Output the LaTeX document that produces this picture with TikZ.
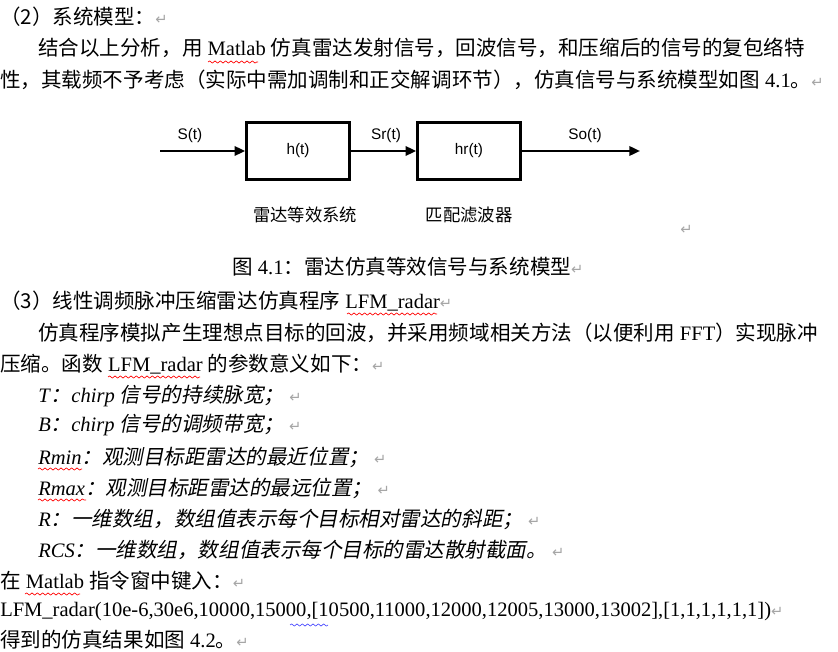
\documentclass[tikz,border=0pt]{standalone}
\usepackage{fontspec}
\setmainfont{Liberation Serif}
\newfontfamily\cjk{Noto Sans CJK SC}
\newfontfamily\cjkit[FakeSlant=0.2]{Noto Sans CJK SC}
\newfontfamily\symf{DejaVu Sans}
\newfontfamily\lsans{Liberation Sans}
\usetikzlibrary{arrows.meta,decorations.pathmorphing}
\newcommand{\pmark}{{\symf\color{gray!70}\fontsize{11pt}{12pt}\selectfont ↵}}
\newcommand{\C}[1]{{\cjk #1}}
\newcommand{\CI}[1]{{\cjkit #1}}
\begin{document}
\begin{tikzpicture}[x=0.75pt,y=-0.75pt,
  txt/.style={anchor=west,inner sep=0pt,font=\fontsize{15.4pt}{18pt}\selectfont},
  blk/.style={draw,line width=2.2pt,minimum width=77pt,minimum height=43pt,inner sep=0pt,font=\lsans\fontsize{11.5pt}{12pt}\selectfont},
  sig/.style={line width=1.8pt,-{Triangle[length=8pt,width=7pt]}},
  lab/.style={inner sep=0pt,font=\lsans\fontsize{11.5pt}{12pt}\selectfont},
  squig/.style={red,line width=0.5pt,decorate,decoration={snake,amplitude=0.8pt,segment length=4pt}}]
\useasboundingbox[fill=white] (0,0) rectangle (838,652);
\node[txt] (l1) at (0,17) {\C{（2）系统模型：}\pmark};
\node[txt] (l2) at (38,48) {\C{结合以上分析，用} Matlab \C{仿真雷达发射信号，回波信号，和压缩后的信号的复包络特}};
\node[txt] (l3) at (0,80) {\C{性，其载频不予考虑（实际中需加调制和正交解调环节），仿真信号与系统模型如图} 4.1\C{。}\pmark};
% diagram
\node[blk] (h) at (298,151) {h(t)};
\node[blk] (hr) at (469,151) {hr(t)};
\coordinate (in) at (160,151);
\coordinate (out) at (640,151);
\draw[sig] (in) -- (h);
\draw[sig] (h) -- (hr);
\draw[sig] (hr) -- (out);
\node[lab] (s) at (190,136) {S(t)};
\node[lab] (sr) at (386,136) {Sr(t)};
\node[lab] (so) at (585,136) {So(t)};
\node[lab] (c1) at (305,215) {\cjk\fontsize{13pt}{14pt}\selectfont 雷达等效系统};
\node[lab] (c2) at (469,215) {\cjk\fontsize{13pt}{14pt}\selectfont 匹配滤波器};
\node[txt] (pmk) at (680,230) {\pmark};
\node[txt] (cap) at (232,267) {\C{图} 4.1\C{：雷达仿真等效信号与系统模型}\pmark};
\node[txt] (l5) at (0,301) {\C{（3）线性调频脉冲压缩雷达仿真程序} LFM\_radar\pmark};
\node[txt] (l6) at (38,333) {\C{仿真程序模拟产生理想点目标的回波，并采用频域相关方法（以便利用} FFT\C{）实现脉冲}};
\node[txt] (l7) at (0,364) {\C{压缩。函数} LFM\_radar \C{的参数意义如下：}\pmark};
\node[txt] (l8) at (38,396) {\textit{T}\CI{：}\textit{chirp} \CI{信号的持续脉宽；} \pmark};
\node[txt] (l9) at (38,425) {\textit{B}\CI{：}\textit{chirp} \CI{信号的调频带宽；} \pmark};
\node[txt] (l10) at (38,457) {\textit{Rmin}\CI{：观测目标距雷达的最近位置；} \pmark};
\node[txt] (l11) at (38,488) {\textit{Rmax}\CI{：观测目标距雷达的最远位置；} \pmark};
\node[txt] (l12) at (38,519) {\textit{R}\CI{：一维数组，数组值表示每个目标相对雷达的斜距；} \pmark};
\node[txt] (l13) at (38,550) {\textit{RCS}\CI{：一维数组，数组值表示每个目标的雷达散射截面。} \pmark};
\node[txt] (l14) at (0,581) {\C{在} Matlab \C{指令窗中键入：}\pmark};
\node[txt] (l15) at (0,612) {LFM\_radar(10e-6,30e6,10000,15000,[10500,11000,12000,12005,13000,13002],[1,1,1,1,1,1])\pmark};
\node[txt] (l16) at (0,640) {\C{得到的仿真结果如图} 4.2\C{。}\pmark};
% squiggles
\draw[squig] (208,62) -- (258,62);
\draw[squig] (347,314) -- (437,314);
\draw[squig] (108,377) -- (200,377);
\draw[squig] (38,469) -- (82,469);
\draw[squig] (38,500) -- (86,500);
\draw[squig] (25,594) -- (80,594);
\draw[squig,blue!70] (290,625) -- (328,625);
\end{tikzpicture}
\end{document}
